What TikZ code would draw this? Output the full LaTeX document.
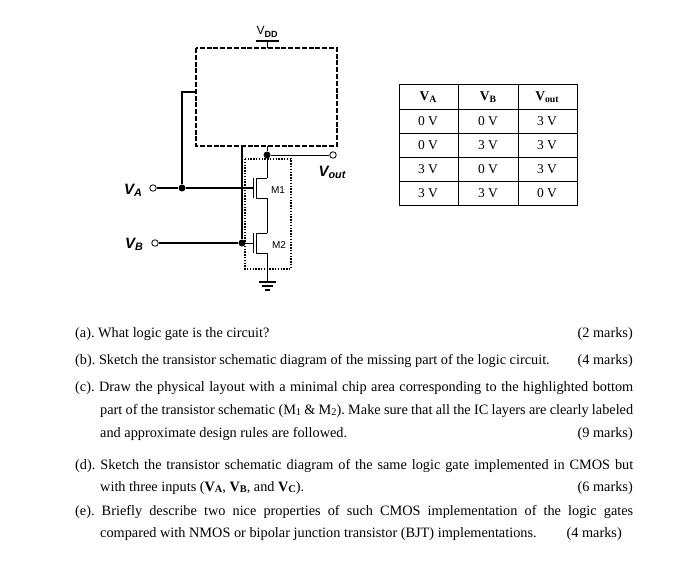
\documentclass[tikz,border=0pt]{standalone}
\usepackage{fontspec}
\setmainfont{Liberation Serif}
\setsansfont{Liberation Sans}
\newcommand{\lowsub}[1]{\raisebox{-0.25ex}{\fontsize{0.72em}{1em}\selectfont #1}}
\tikzset{
  wire/.style={line width=1pt},
  gatewire/.style={line width=1.2pt},
  dashbox/.style={line width=1.3pt, dash pattern=on 5pt off 1.8pt},
  dotbox/.style={line width=1.1pt, dash pattern=on 1.4pt off 1.4pt},
  pin/.style={circle, draw, fill=white, line width=0.8pt, inner sep=0pt, minimum size=6.5pt},
  joint/.style={circle, fill=black, inner sep=0pt, minimum size=7pt},
  siglabel/.style={font=\sffamily\bfseries\itshape\fontsize{15}{15}\selectfont},
  devlabel/.style={font=\sffamily\fontsize{10}{10}\selectfont},
  cell/.style={font=\fontsize{13.5}{13.5}\selectfont},
  line/.style={anchor=base west, inner sep=0pt, font=\fontsize{14.3}{16}\selectfont},
  marks/.style={anchor=base east, inner sep=0pt, font=\fontsize{14.3}{16}\selectfont}
}
\begin{document}
\frenchspacing
\begin{tikzpicture}[x=1pt, y=-1pt]
  \useasboundingbox (0, 0) rectangle (700, 570);
  % missing part
  \draw [dashbox] (196, 48) rectangle (337, 146);
  \draw [dotbox] (245, 159) rectangle (291, 269);
  \coordinate (boxtop) at (267, 48);
  \coordinate (boxleft) at (196, 92);
  \coordinate (boxbot) at (267, 146);
  \coordinate (boxgate) at (242, 146);
  \coordinate (vddbar) at (267, 41);
  \coordinate (gndbar) at (267, 282);
  \coordinate (corner) at (182, 92);
  \draw [wire] (boxtop) -- (vddbar);
  \draw [gatewire] (256, 41) -- (279, 41);
  \node [font=\sffamily\fontsize{12}{12}\selectfont] (vdd) at (267, 32) {V\raisebox{-0.45ex}{\bfseries\fontsize{9}{9}\selectfont DD}};
  % nodes of the circuit
  \node [pin] (vaPin) at (153, 188) {};
  \node [pin] (vbPin) at (155, 243) {};
  \node [pin] (outPin) at (333, 155) {};
  \node [joint] (vaJoint) at (182, 188) {};
  \node [joint] (vbJoint) at (242, 243) {};
  \node [joint] (outJoint) at (267, 155) {};
  \draw [gatewire] (vaPin) -- (vaJoint);
  \draw [gatewire] (vbPin) -- (vbJoint);
  \draw [gatewire] (vaJoint) -- (corner) -- (boxleft);
  \draw [gatewire] (boxgate) -- (vbJoint);
  \draw [wire] (boxbot) -- (outJoint);
  \draw [wire] (outJoint) -- (outPin);
  % the two transistors
  \foreach \name/\top in {a/178, b/233}
  {
    \coordinate (drain\name) at (267, \top);
    \coordinate (source\name) at (267, \top+20);
    \draw [wire] (drain\name) -- ++(-11, 0) -- ++(0, 20) -- (source\name);
    \draw [wire] (253, \top) -- ++(0, 20);
  }
  \draw [gatewire] (vaJoint) -- (253, 188);
  \draw [wire] (vbJoint) -- (253, 243);
  \draw [wire] (outJoint) -- (draina);
  \draw [wire] (sourcea) -- (drainb);
  \draw [wire] (sourceb) -- (gndbar);
  \draw [line width=1.4pt] (259, 282) -- ++(17, 0);
  \draw [line width=1.4pt] (262, 286) -- ++(11, 0);
  \draw [line width=1.4pt] (265, 290) -- ++(5, 0);
  \node [devlabel] (mone) at (278, 190) {M1};
  \node [devlabel] (mtwo) at (279, 245) {M2};
  \node [siglabel] (va) at (133, 190) {V\lowsub{A}};
  \node [siglabel] (vb) at (134, 244) {V\lowsub{B}};
  \node [siglabel] (vout) at (332, 172) {V\lowsub{out}};
  % table
  \draw [line width=0.8pt] (399, 84) rectangle (577, 205);
  \foreach \x in {458, 518}
  {
    \draw [line width=0.8pt] (\x, 84) -- (\x, 205);
  }
  \foreach \y in {109, 133, 157, 181}
  {
    \draw [line width=0.8pt] (399, \y) -- (577, \y);
  }
  \node [cell] (heada) at (428, 97) {\textbf{V\lowsub{A}}};
  \node [cell] (headb) at (488, 97) {\textbf{V\lowsub{B}}};
  \node [cell] (headout) at (547, 97) {\textbf{V\lowsub{out}}};
  \foreach \y/\a/\b/\o in {121/0/0/3, 145/0/3/3, 169/3/0/3, 193/3/3/0}
  {
    \node [cell] (a\y) at (428, \y) {\a\ V};
    \node [cell] (b\y) at (488, \y) {\b\ V};
    \node [cell] (o\y) at (547, \y) {\o\ V};
  }
  % questions
  \node [line] (qa) at (75, 337) {(a). What logic gate is the circuit?};
  \node [marks] (ma) at (633, 337) {(2 marks)};
  \node [line] (qb) at (75, 364) {(b). Sketch the transistor schematic diagram of the missing part of the logic circuit.};
  \node [marks] (mb) at (633, 364) {(4 marks)};
  \node [line] (qc) at (75, 391) {\makebox[558pt][s]{(c). Draw the physical layout with a minimal chip area corresponding to the highlighted bottom}};
  \node [line] (qcb) at (100, 414) {\makebox[533pt][s]{part of the transistor schematic (M\lowsub{1} \& M\lowsub{2}). Make sure that all the IC layers are clearly labeled}};
  \node [line] (qcc) at (100, 437) {and approximate design rules are followed.};
  \node [marks] (mc) at (633, 437) {(9 marks)};
  \node [line] (qd) at (75, 469) {\makebox[558pt][s]{(d). Sketch the transistor schematic diagram of the same logic gate implemented in CMOS but}};
  \node [line] (qdb) at (100, 491) {with three inputs (\textbf{V\lowsub{A}}, \textbf{V\lowsub{B}}, and \textbf{V\lowsub{C}}).};
  \node [marks] (md) at (633, 491) {(6 marks)};
  \node [line] (qe) at (75, 515) {\makebox[558pt][s]{(e). Briefly describe two nice properties of such CMOS implementation of the logic gates}};
  \node [line] (qeb) at (100, 537) {compared with NMOS or bipolar junction transistor (BJT) implementations.};
  \node [marks] (me) at (622, 537) {(4 marks)};
\end{tikzpicture}
\end{document}
